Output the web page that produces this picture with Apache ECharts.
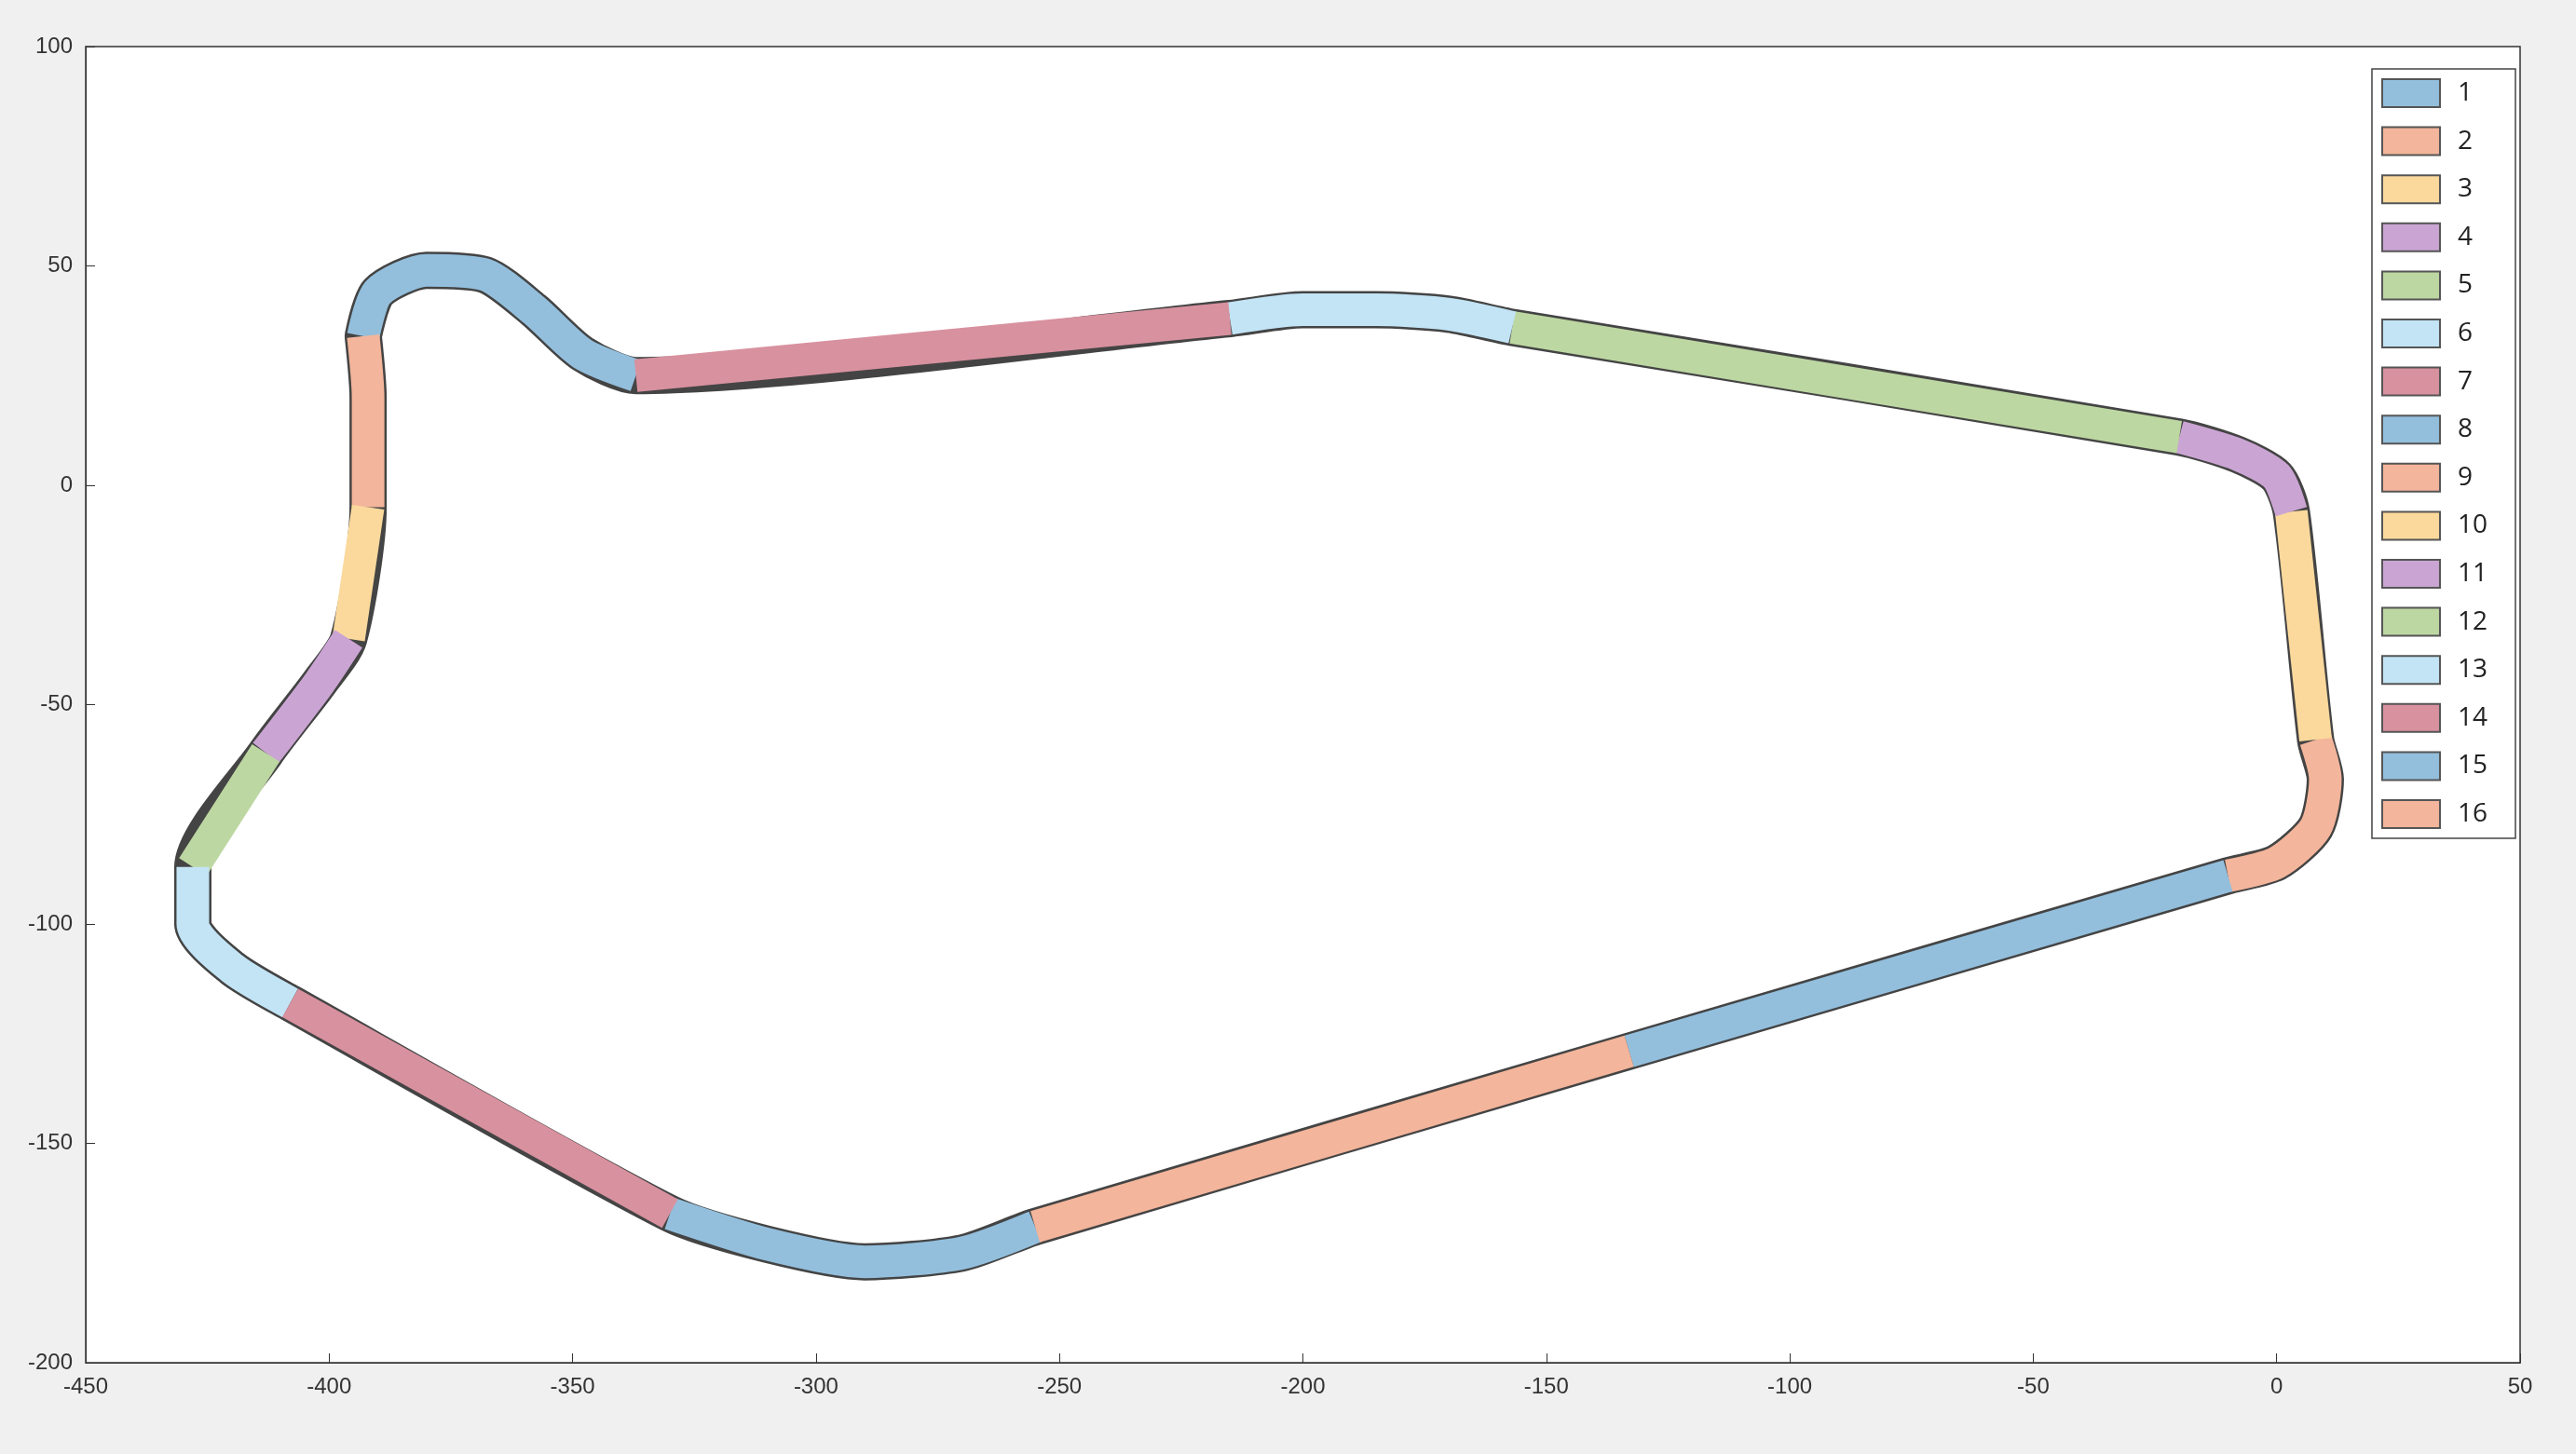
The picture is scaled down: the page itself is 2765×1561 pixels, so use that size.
<!DOCTYPE html>
<html><head><meta charset="utf-8">
<script src="https://cdn.jsdelivr.net/npm/echarts@6/dist/echarts.min.js"></script>
<style>html,body{margin:0;padding:0;background:#f0f0f0}#c{width:2765px;height:1561px}</style>
</head><body><div id="c"></div>
<script>
const segNames = ['1','2','3','4','5','6','7','8','9','10','11','12','13','14','15','16'];
const segColors = ['#93bfdd','#f3b59b','#fbd99c','#caa5d3','#bdd7a2','#c2e4f5','#d8919f','#93bfdd','#f3b59b','#fbd99c','#caa5d3','#bdd7a2','#c2e4f5','#d8919f','#93bfdd','#f3b59b'];
const seg1 = [[-393,34],[-390,44],[-380,49],[-368,48],[-358,40],[-348,30],[-337,25]];
const seg7 = [[-337,25],[-215,38]];
const seg6 = [[-215,38],[-200,40],[-185,40],[-170,39],[-157,36]];
const seg5 = [[-157,36],[-20,11]];
const seg4 = [[-20,11],[-8,7],[0,2],[3,-6]];
const seg3 = [[3,-6],[8,-58]];
const seg2 = [[8,-58],[10,-67],[8,-78],[0,-86],[-10,-89]];
const seg15 = [[-10,-89],[-133,-129]];
const seg16 = [[-133,-129],[-255,-169]];
const seg8 = [[-255,-169],[-270,-175],[-290,-177],[-310,-173],[-330,-166]];
const seg14 = [[-330,-166],[-408,-118]];
const seg13 = [[-408,-118],[-420,-110],[-428,-100],[-428,-87]];
const seg12 = [[-428,-87],[-413,-61]];
const seg11 = [[-413,-61],[-402,-45],[-396,-35]];
const seg10 = [[-396,-35],[-392,-5]];
const seg9 = [[-392,-5],[-392,20],[-393,34]];
const segs = {'1':seg1,'2':seg2,'3':seg3,'4':seg4,'5':seg5,'6':seg6,'7':seg7,'8':seg8,'9':seg9,'10':seg10,'11':seg11,'12':seg12,'13':seg13,'14':seg14,'15':seg15,'16':seg16};
const order = ['1','7','6','5','4','3','2','15','16','8','14','13','12','11','10','9'];
const xTicks = [-450,50,50];
const yTicks = [-200,100,50];

const loop = [];
order.forEach(k => segs[k].forEach(p => loop.push(p)));
const series = [{
  type:'line', name:'outline', data:loop, showSymbol:false, silent:true, smooth:0.25,
  lineStyle:{color:'#444',width:40,join:'round',cap:'round'}, z:1
}];
segNames.forEach((n,i)=>{
  series.push({type:'line', name:n, data:segs[n], showSymbol:false, z:2, smooth:0.25,
    itemStyle:{color:segColors[i],borderColor:'#555',borderWidth:1.5},
    lineStyle:{color:segColors[i],width:35,join:'round',cap:'butt'}});
});
const axisCommon = {
  axisLine:{onZero:false,lineStyle:{color:'#333'}},axisTick:{inside:true,length:10},splitLine:{show:false},
  axisLabel:{fontFamily:'Liberation Sans',fontSize:24,color:'#333',margin:14}};
const ch = echarts.init(document.getElementById('c'));
ch.setOption({
  animation:false, backgroundColor:'#f0f0f0',
  grid:{left:92,right:60,top:50,bottom:98,show:true,backgroundColor:'#fff',borderColor:'#333',borderWidth:1.5},
  xAxis:Object.assign({type:'value',min:xTicks[0],max:xTicks[1],interval:xTicks[2]},axisCommon),
  yAxis:Object.assign({type:'value',min:yTicks[0],max:yTicks[1],interval:yTicks[2]},axisCommon),
  legend:{data:segNames.map(n=>({name:n,icon:'rect'})),orient:'vertical',right:65,top:74,
    itemWidth:62,itemHeight:30,itemGap:19.6,padding:[10,30,10,10],
    backgroundColor:'#fff',borderColor:'#444',borderWidth:1.5,
    textStyle:{fontFamily:'Open Sans',fontSize:28,color:'#222',width:40,padding:[0,0,0,14]}},
  series
});
</script></body></html>
